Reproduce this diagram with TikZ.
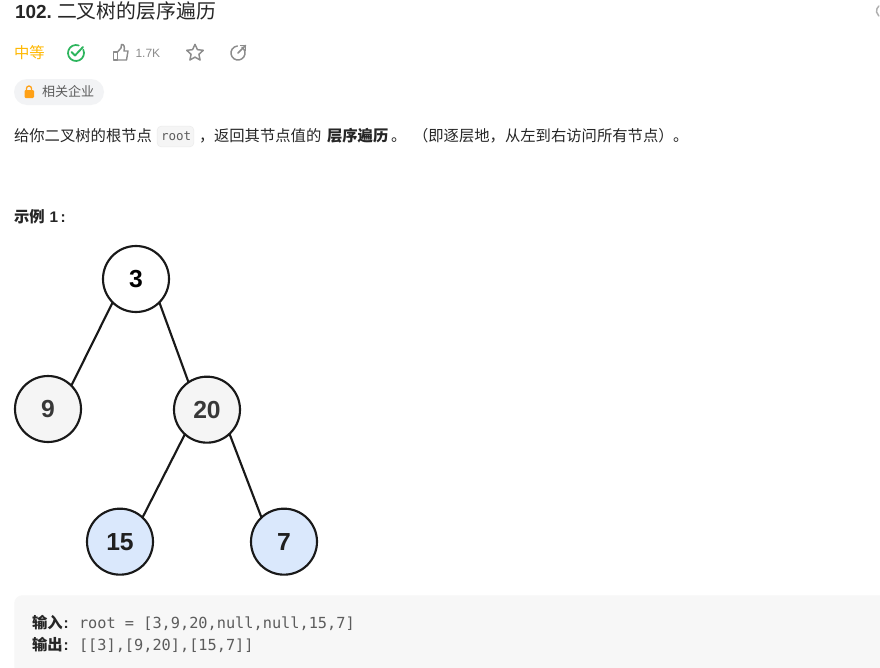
\documentclass[tikz,border=0pt]{standalone}
\usepackage{fontspec}
\usepackage{xcolor}
\usepackage{tikz}
\usetikzlibrary{positioning,shapes.geometric}
\setmainfont{Liberation Sans}
\setmonofont{DejaVu Sans Mono}
\newfontfamily\cjk{Noto Sans CJK SC}
\definecolor{DeepInk}{HTML}{262626}
\definecolor{DeepGray}{HTML}{5C5C5C}
\definecolor{IconGray}{HTML}{8C8C8C}
\definecolor{SoftGray}{HTML}{F5F5F5}
\definecolor{ChipGray}{HTML}{F2F3F5}
\definecolor{CodeGray}{HTML}{F7F7F7}
\definecolor{SoftBlue}{HTML}{DAE8FC}
\definecolor{DeepGold}{HTML}{FFB800}
\definecolor{LockGold}{HTML}{FFA116}
\definecolor{DeepGreen}{HTML}{2DB55D}
\tikzset{
  txt/.style={anchor=base west,inner sep=0pt,outer sep=0pt,text=DeepInk,
              font=\fontsize{11.5}{14}\selectfont\cjk},
  boldtxt/.style={txt,font=\fontsize{11.5}{14}\selectfont\cjk\bfseries},
  latintxt/.style={txt,font=\fontsize{11.5}{14}\selectfont\bfseries},
  codetxt/.style={txt,text=DeepGray,font=\fontsize{11.45}{14}\selectfont\ttfamily},
  icon/.style={draw=IconGray,line width=1.1pt,line join=round,line cap=round},
  treenode/.style={circle,draw=black!90,line width=1.6pt,fill=white,minimum size=49.5pt,
              inner sep=0pt,outer sep=0pt,font=\fontsize{18.5}{20}\selectfont\bfseries},
  graynode/.style={treenode,fill=SoftGray,text=black!78},
  bluenode/.style={treenode,fill=SoftBlue,text=black!88},
  link/.style={line width=1.6pt,draw=black!90}
}
\begin{document}
\begin{tikzpicture}[x=0.75pt,y=-0.75pt,on grid]
  \useasboundingbox[fill=white] (0,0) rectangle (880,667);

  % heading row
  \node[txt,font=\fontsize{14.2}{16}\selectfont\bfseries] (num) at (15,18.5) {102.};
  \node[txt,font=\fontsize{14.9}{16}\selectfont\cjk] (title) at (57,18.5) {二叉树的层序遍历};
  \draw[icon,draw=IconGray!70] (883,11) ++(-130:6.5) arc[start angle=-130,end angle=-230,radius=6.5];

  % status row
  \node[txt,text=DeepGold] (level) at (14,58.5) {中等};
  \draw[draw=DeepGreen,line width=1.3pt,line cap=round] (76,53) ++(-25:8) arc[start angle=-25,end angle=290,radius=8];
  \draw[draw=DeepGreen,line width=1.4pt,line cap=round,line join=round] (71.5,52) -- (75,55.5) -- (83,47);
  \draw[icon] (113.5,52) rectangle (117.5,60);
  \draw[icon] (117.5,52) -- (121,48) -- (121.5,44.5) .. controls (124,44) and (125,47) .. (124,51)
    -- (128,51) -- (126.5,60) -- (117.5,60);
  \node[txt,text=IconGray,font=\fontsize{9}{11}\selectfont] (likes) at (135.5,58) {1.7K};
  \node[star,star points=5,star point ratio=2.1,draw=IconGray,line width=1.1pt,line join=round,
        minimum size=13pt,inner sep=0pt] (fav) at (195,53) {};
  \draw[icon] (238,53) ++(-55:7) arc[start angle=-55,end angle=265,radius=7];
  \draw[icon] (238,53) -- (245.5,45.5);
  \draw[icon] (240.5,45.5) -- (245.5,45.5) -- (245.5,50.5);

  % company chip
  \node[draw=none,fill=ChipGray,rounded corners=13*0.75pt,minimum width=67.5pt,minimum height=19.5pt,
        inner sep=0pt] (chip) at (59,92) {};
  \fill[LockGold,rounded corners=0.8pt] (24.5,90) rectangle (34,98);
  \draw[LockGold,line width=1pt] (26.5,90) -- (26.5,88.5) arc[start angle=180,end angle=360,radius=2.5] -- (31.5,90);
  \node[txt,text=DeepGray,font=\fontsize{9.8}{12}\selectfont\cjk] (company) at (42,96.5) {相关企业};

  % description
  \node[txt] (lead) at (14,141.5) {给你二叉树的根节点};
  \node[draw=black!8,fill=SoftGray,rounded corners=3pt,minimum width=27.5pt,minimum height=15.5pt,
        inner sep=0pt] (chiproot) at (175.5,136.5) {};
  \node[txt,text=DeepGray,font=\fontsize{9.4}{12}\selectfont\ttfamily] (rootword) at (161,140.5) {root};
  \node[txt] (comma) at (199,141.5) {，};
  \node[txt] (rest) at (214,141.5) {返回其节点值的};
  \node[boldtxt] (bold) at (327,141.5) {层序遍历};
  \node[txt] (stop) at (391,141.5) {。};
  \node[txt] (paren) at (413,141.5) {（即逐层地，从左到右访问所有节点）};
  \node[txt] (stoptwo) at (673,141.5) {。};

  \node[boldtxt] (example) at (14,222.5) {示例};
  \node[latintxt] (exnum) at (49.5,222.5) {1\hspace{2pt}:};

  % tree
  \node[treenode] (root) at (136,279) {3};
  \node[graynode,below left=97.5pt and 66pt of root] (nine) {9};
  \node[graynode,below right=98pt and 53.25pt of root] (twenty) {20};
  \node[bluenode,below left=99pt and 65.25pt of twenty] (fifteen) {15};
  \node[bluenode,below right=99pt and 57.75pt of twenty] (seven) {7};

  \draw[link] (root.225) -- (nine.45);
  \draw[link] (root.315) -- (twenty.124);
  \draw[link] (twenty.228) -- (fifteen.47);
  \draw[link] (twenty.313) -- (seven.133);

  % code block
  \node[fill=CodeGray,rounded corners=6pt,minimum width=690pt,minimum height=75pt,inner sep=0pt,
        anchor=north west] (block) at (14,595) {};
  \node[boldtxt] (inlabel) at (32,628) {输入};
  \node[latintxt] (incolon) at (63.5,628) {:};
  \node[codetxt] (input) at (79,628) {root = [3,9,20,null,null,15,7]};
  \node[boldtxt] (outlabel) at (32,650) {输出};
  \node[latintxt] (outcolon) at (63.5,650) {:};
  \node[codetxt] (output) at (79,650) {[[3],[9,20],[15,7]]};
\end{tikzpicture}
\end{document}
